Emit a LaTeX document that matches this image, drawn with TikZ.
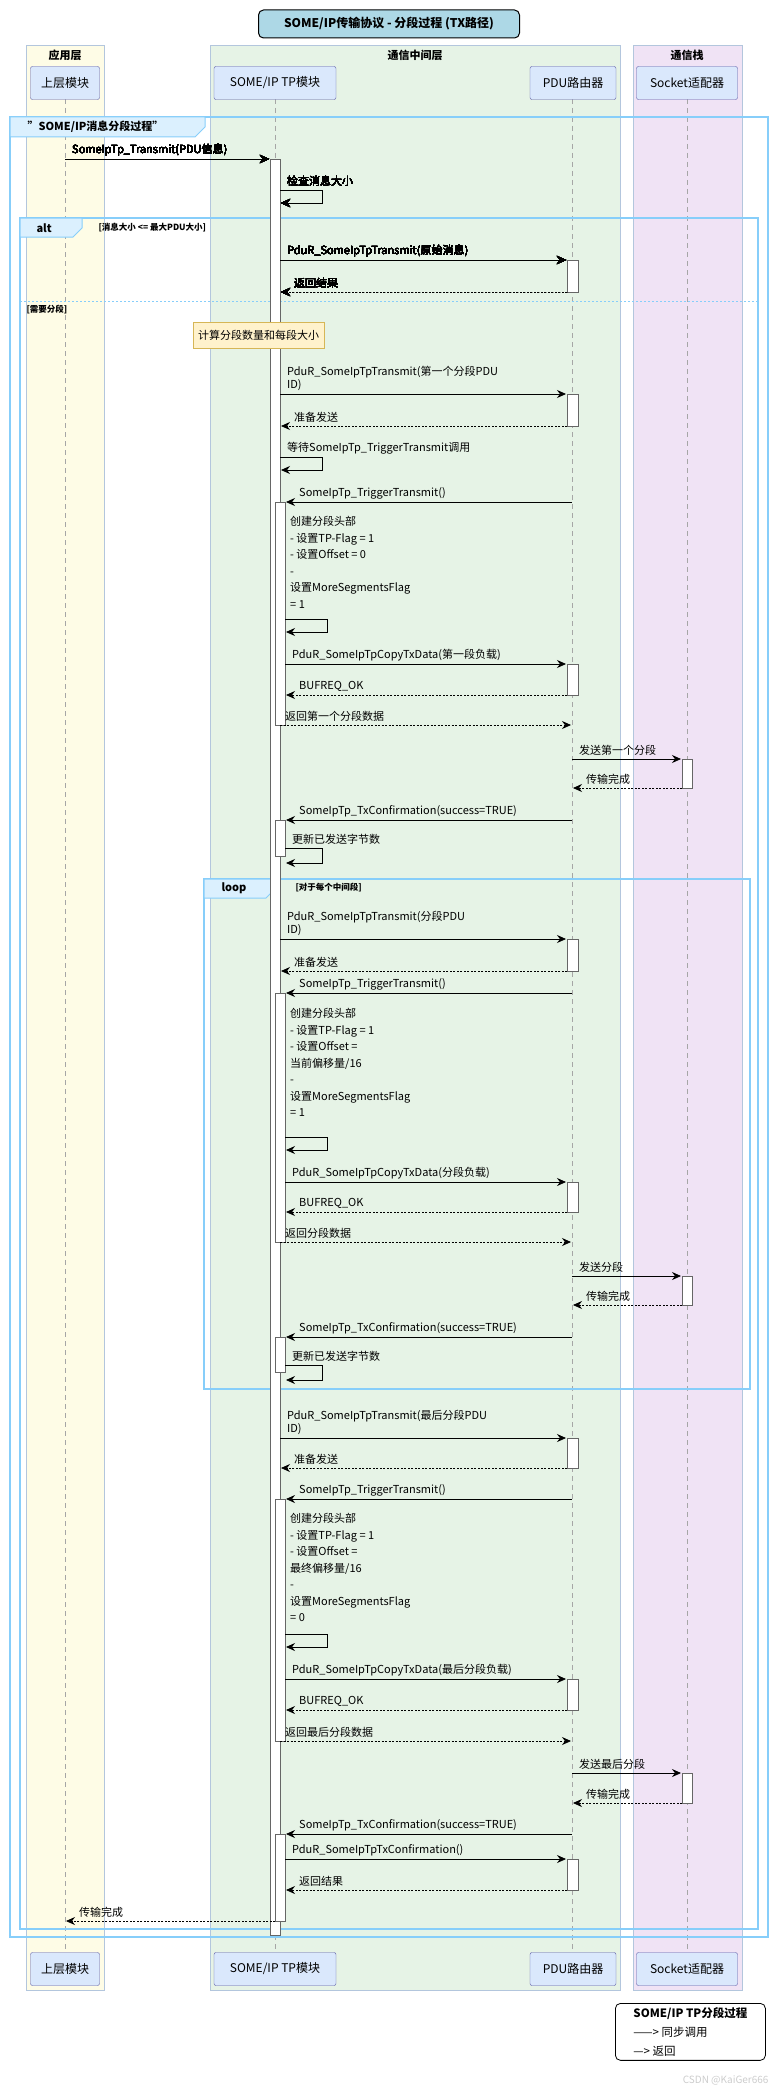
\documentclass[tikz,border=0pt]{standalone}
\usepackage{fontspec}
\setmainfont{Noto Sans CJK SC}
\usetikzlibrary{arrows.meta}
\definecolor{laneY}{HTML}{FEFCE6}
\definecolor{laneG}{HTML}{E6F3E6}
\definecolor{laneP}{HTML}{F0E3F5}
\definecolor{laneB}{HTML}{B3C6DD}
\definecolor{partF}{HTML}{DAE8FC}
\definecolor{grp}{HTML}{87CEFA}
\definecolor{ttl}{HTML}{ADD8E6}
\definecolor{noteF}{HTML}{FFF2CC}
\definecolor{noteB}{HTML}{D6B656}
\tikzset{
 x=1pt,y=-1pt,
 lbl/.style={font=\fontsize{11}{13}\selectfont,inner sep=1pt,align=left},
 sync/.style={line width=0.8pt,-{Stealth[length=9pt,width=8pt,inset=3pt]}},
 ret/.style={line width=0.8pt,dash pattern=on 2pt off 1.5pt,-{Stealth[length=9pt,width=8pt,inset=3pt]}},
 part/.style={draw=gray!70!blue,fill=partF,rounded corners=2pt,minimum height=33pt,font=\fontsize{12}{14}\selectfont,inner xsep=4pt},
 act/.style={draw=gray!80!black,fill=white,line width=0.6pt},
 grpline/.style={draw=grp,line width=1.8pt},
 life/.style={draw=gray!70,dash pattern=on 5pt off 4pt,line width=0.5pt},
 blk/.style={lbl,anchor=north west,font=\fontsize{11}{16.5}\selectfont},
}
\newcommand\rmsg[4]{\draw[sync] (#1,#3) -- (#2,#3); \node[lbl,anchor=south west] at (#1+6,#3-2) {#4};}
\newcommand\lmsg[4]{\draw[sync] (#1,#3) -- (#2,#3); \node[lbl,anchor=south west] at (#2+12,#3-2) {#4};}
\newcommand\lret[4]{\draw[ret] (#1,#3) -- (#2,#3); \node[lbl,anchor=south west] at (#2+12,#3-2) {#4};}
\newcommand\rret[4]{\draw[ret] (#1,#3) -- (#2,#3); \node[lbl,anchor=south west] at (#1+4,#3-2) {#4};}
\newcommand\selfm[4]{\draw[sync] (#1,#2) -- (322,#2) -- (322,#3) -- (#1+1,#3); \node[lbl,anchor=south west] at (#1+6,#2-2) {#4};}
\newcommand\abar[4]{\draw[act] (#1,#3) rectangle (#2,#4);}
\begin{document}
\begin{tikzpicture}
\useasboundingbox (0,0) rectangle (783,2087);
\filldraw[fill=laneY,draw=laneB] (26,45) rectangle (104,1990);
\filldraw[fill=laneG,draw=laneB] (210,45) rectangle (620,1990);
\filldraw[fill=laneP,draw=laneB] (633,45) rectangle (742,1990);
\node[font=\bfseries\fontsize{11}{13}\selectfont] at (65,55) {应用层};
\node[font=\bfseries\fontsize{11}{13}\selectfont] at (415,55) {通信中间层};
\node[font=\bfseries\fontsize{11}{13}\selectfont] at (687,55) {通信栈};
\node[draw=black,line width=1pt,fill=ttl,rounded corners=5pt,font=\bfseries\fontsize{12}{14}\selectfont,minimum width=261pt,minimum height=28pt] (title) at (389,24) {SOME/IP传输协议 - 分段过程 (TX路径)};
\foreach \x in {65,275,572,687} \draw[life] (\x,99) -- (\x,1953);
\node[part,minimum width=69pt] (a1) at (65,83) {上层模块};
\node[part,minimum width=122pt] (t1) at (275,83) {SOME/IP TP模块};
\node[part,minimum width=86pt] (p1) at (573,83) {PDU路由器};
\node[part,minimum width=101pt] (s1) at (687,83) {Socket适配器};
\node[part,minimum width=69pt] (a2) at (65,1969) {上层模块};
\node[part,minimum width=122pt] (t2) at (275,1969) {SOME/IP TP模块};
\node[part,minimum width=86pt] (p2) at (573,1969) {PDU路由器};
\node[part,minimum width=101pt] (s2) at (687,1969) {Socket适配器};
\draw[grpline] (10,117) rectangle (768,1937);
\filldraw[fill=grp!30,draw=grp,line width=1pt] (10,117) -- (205,117) -- (205,127) -- (195,137) -- (10,137) -- cycle;
\node[font=\bfseries\fontsize{11}{13}\selectfont,anchor=west] at (24,127) {\symbol{34}SOME/IP消息分段过程\symbol{34}};
\draw[grpline] (20,218) rectangle (758,1929);
\filldraw[fill=grp!30,draw=grp,line width=1pt] (20,218) -- (82,218) -- (82,228) -- (73,237) -- (20,237) -- cycle;
\node[font=\bfseries\fontsize{11}{12}\selectfont,anchor=west] at (33,228) {alt};
\node[font=\bfseries\fontsize{8.5}{10}\selectfont,anchor=west] at (95,228) {[消息大小 <= 最大PDU大小]};
\draw[grp,dash pattern=on 2pt off 2pt,line width=0.6pt] (20,301) -- (758,301);
\node[font=\bfseries\fontsize{8.5}{10}\selectfont,anchor=west] at (23,310) {[需要分段]};
\draw[grpline] (204,879) rectangle (750,1389);
\filldraw[fill=grp!30,draw=grp,line width=1pt] (204,879) -- (275,879) -- (275,889) -- (266,898) -- (204,898) -- cycle;
\node[font=\bfseries\fontsize{11}{12}\selectfont,anchor=west] at (218,888) {loop};
\node[font=\bfseries\fontsize{8.5}{10}\selectfont,anchor=west] at (292,888) {[对于每个中间段]};
\abar{270}{280}{159}{1935}
\abar{275}{285}{502}{725}
\abar{275}{285}{820}{856}
\abar{275}{285}{993}{1242}
\abar{275}{285}{1337}{1372}
\abar{275}{285}{1499}{1741}
\abar{275}{285}{1834}{1921}
\foreach \a/\b in {260/292,394/426,664/695,939/971,1182/1212,1438/1468,1679/1710,1859/1890} \abar{567}{578}{\a}{\b}
\foreach \a/\b in {759/788,1276/1305,1773/1803} \abar{682}{692}{\a}{\b}
\rmsg{65}{269}{159}{SomeIpTp\_Transmit(PDU信息)}
\selfm{280}{190}{203}{检查消息大小}
\rmsg{280}{566}{260}{PduR\_SomeIpTpTransmit(原始消息)}
\lret{567}{281}{292}{返回结果}
\node[draw=noteB,fill=noteF,font=\fontsize{11}{13}\selectfont,minimum height=26pt,anchor=north west,inner xsep=5pt] (note) at (193,322) {计算分段数量和每段大小};
\rmsg{280}{566}{394}{PduR\_SomeIpTpTransmit(第一个分段PDU\\ID)}
\lret{567}{281}{426}{准备发送}
\selfm{280}{457}{470}{等待SomeIpTp\_TriggerTransmit调用}
\lmsg{572}{286}{502}{SomeIpTp\_TriggerTransmit()}
\node[blk] at (289,515) {创建分段头部\\- 设置TP-Flag = 1\\- 设置Offset = 0\\-\\设置MoreSegmentsFlag\\= 1};
\draw[sync] (285,619) -- (327,619) -- (327,632) -- (286,632);
\rmsg{285}{566}{664}{PduR\_SomeIpTpCopyTxData(第一段负载)}
\lret{567}{286}{695}{BUFREQ\_OK}
\rret{280}{571}{725}{返回第一个分段数据}
\rmsg{572}{681}{759}{发送第一个分段}
\lret{682}{573}{788}{传输完成}
\lmsg{572}{286}{820}{SomeIpTp\_TxConfirmation(success=TRUE)}
\selfm{285}{848}{863}{更新已发送字节数}
\rmsg{280}{566}{939}{PduR\_SomeIpTpTransmit(分段PDU\\ID)}
\lret{567}{281}{971}{准备发送}
\lmsg{572}{286}{993}{SomeIpTp\_TriggerTransmit()}
\node[blk] at (289,1007) {创建分段头部\\- 设置TP-Flag = 1\\- 设置Offset =\\当前偏移量/16\\-\\设置MoreSegmentsFlag\\= 1};
\draw[sync] (285,1137) -- (327,1137) -- (327,1150) -- (286,1150);
\rmsg{285}{566}{1182}{PduR\_SomeIpTpCopyTxData(分段负载)}
\lret{567}{286}{1212}{BUFREQ\_OK}
\rret{280}{571}{1242}{返回分段数据}
\rmsg{572}{681}{1276}{发送分段}
\lret{682}{573}{1305}{传输完成}
\lmsg{572}{286}{1337}{SomeIpTp\_TxConfirmation(success=TRUE)}
\selfm{285}{1365}{1380}{更新已发送字节数}
\rmsg{280}{566}{1438}{PduR\_SomeIpTpTransmit(最后分段PDU\\ID)}
\lret{567}{281}{1468}{准备发送}
\lmsg{572}{286}{1499}{SomeIpTp\_TriggerTransmit()}
\node[blk] at (289,1512) {创建分段头部\\- 设置TP-Flag = 1\\- 设置Offset =\\最终偏移量/16\\-\\设置MoreSegmentsFlag\\= 0};
\draw[sync] (285,1634) -- (327,1634) -- (327,1647) -- (286,1647);
\rmsg{285}{566}{1679}{PduR\_SomeIpTpCopyTxData(最后分段负载)}
\lret{567}{286}{1710}{BUFREQ\_OK}
\rret{280}{571}{1741}{返回最后分段数据}
\rmsg{572}{681}{1773}{发送最后分段}
\lret{682}{573}{1803}{传输完成}
\lmsg{572}{286}{1834}{SomeIpTp\_TxConfirmation(success=TRUE)}
\rmsg{285}{566}{1859}{PduR\_SomeIpTpTxConfirmation()}
\lret{567}{286}{1890}{返回结果}
\lret{275}{66}{1921}{传输完成}
\node[draw=black,rounded corners=5pt,line width=0.8pt,anchor=north west,align=left,inner sep=4pt,font=\fontsize{11.5}{19}\selectfont,minimum width=150pt] (legend) at (615,2003) {\textbf{SOME/IP TP分段过程}\\——> 同步调用\\---> 返回};
\node[font=\fontsize{10}{10}\selectfont,text=gray!40,anchor=east] (wm) at (772,2080) {CSDN @KaiGer666};
\end{tikzpicture}
\end{document}
